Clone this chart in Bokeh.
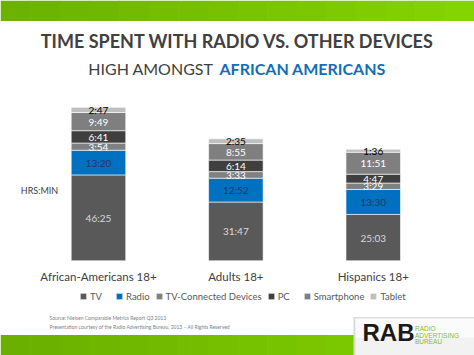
from bokeh.plotting import figure
from bokeh.models import ColumnDataSource, Range1d, Label, BoxAnnotation, Legend, LegendItem
from bokeh.core.properties import value
from bokeh.embed import file_html
from bokeh.resources import INLINE

# ---- data (HRS:MIN per week) ----
categories = ["African-Americans 18+", "Adults 18+", "Hispanics 18+"]
series = ["TV", "Radio", "TV-Connected Devices", "PC", "Smartphone", "Tablet"]
tv = ["46:25", "31:47", "25:03"]
radio = ["13:20", "12:52", "13:30"]
tv_connected = ["3:54", "3:33", "3:29"]
pc = ["6:41", "6:14", "4:47"]
smartphone = ["9:49", "8:55", "11:51"]
tablet = ["2:47", "2:35", "1:36"]

colors = ["#595959", "#0070C0", "#808080", "#3F3F3F", "#7F7F7F", "#BFBFBF"]
label_colors = ["#D9D9D9", "#1F3864", "#FFFFFF", "#FFFFFF", "#FFFFFF", "#000000"]
FONT = "Lato"


def to_hours(s):
    h, m = s.split(":")
    return int(h) + int(m) / 60.0


all_series = [tv, radio, tv_connected, pc, smartphone, tablet]
xs = list(range(len(categories)))
data = {"x": xs}
for name, vals in zip(series, all_series):
    data[name] = [to_hours(v) for v in vals]
source = ColumnDataSource(data)

p = figure(width=474, height=355, x_range=Range1d(-0.713, 2.737), y_range=Range1d(-51.2, 140.7),
           output_backend="svg", toolbar_location=None, min_border=0,
           x_axis_location=None, y_axis_location=None, outline_line_color=None,
           background_fill_color="white", border_fill_color="white")
p.grid.visible = False

# ---- decorative green bands (gradient approximated with strips) ----
def band(bottom, top, left, right, c0, c1, n=16):
    w = (right - left) / n
    for i in range(n):
        t = i / (n - 1)
        r = int(c0[0] + (c1[0] - c0[0]) * t)
        g = int(c0[1] + (c1[1] - c0[1]) * t)
        b = int(c0[2] + (c1[2] - c0[2]) * t)
        p.add_layout(BoxAnnotation(left=left + i * w, right=left + (i + 1) * w + 0.6, bottom=bottom, top=top,
                                   left_units="screen", right_units="screen",
                                   bottom_units="screen", top_units="screen",
                                   fill_color="#%02x%02x%02x" % (r, g, b), fill_alpha=1,
                                   line_color=None, level="underlay"))

band(334.5, 355, 0, 474, (108, 178, 0), (132, 212, 0))
band(0, 20.5, 0, 474, (106, 176, 0), (130, 208, 0))

# logo box
p.add_layout(BoxAnnotation(left=353, right=474, bottom=0, top=38.5, left_units="screen", right_units="screen",
                           bottom_units="screen", top_units="screen", fill_color="#d9d9d9", fill_alpha=1,
                           line_color=None, level="underlay"))
p.add_layout(BoxAnnotation(left=355, right=474, bottom=0, top=37, left_units="screen", right_units="screen",
                           bottom_units="screen", top_units="screen", fill_color="#f2f2f2", fill_alpha=1,
                           line_color=None, level="underlay"))
p.add_layout(BoxAnnotation(left=355, right=474, bottom=18, top=37, left_units="screen", right_units="screen",
                           bottom_units="screen", top_units="screen", fill_color="#fbfbfb", fill_alpha=1,
                           line_color=None, level="underlay"))

# ---- stacked bars ----
renderers = p.vbar_stack(series, x="x", width=0.397, color=colors, source=source,
                         line_color="white", line_width=0.6)

# segment labels
for i, x in enumerate(xs):
    base = 0.0
    for name, vals, lc in zip(series, all_series, label_colors):
        h = to_hours(vals[i])
        p.text(x=[x], y=[base + h / 2], text=[vals[i]], text_align="center", text_baseline="middle",
               text_font=value(FONT), text_font_size="10px", text_color=lc)
        base += h

# category labels
p.text(x=xs, y=[0] * len(xs), text=categories, text_align="center", text_baseline="middle",
       y_offset=16, text_font=value(FONT), text_font_size="11.5px", text_color="#404040")

# ---- legend ----
legend = Legend(items=[LegendItem(label=s, renderers=[r]) for s, r in zip(series, renderers)],
                orientation="horizontal", location=(79, 53), glyph_width=8, glyph_height=8,
                label_text_font=FONT, label_text_font_size="9.5px", label_text_color="#595959",
                label_standoff=3, spacing=5, padding=0, margin=0, border_line_color=None,
                background_fill_alpha=0, label_height=12)
p.add_layout(legend, "center")

# ---- titles and notes ----
p.add_layout(Label(x=237, y=303.5, x_units="screen", y_units="screen",
                   text="TIME SPENT WITH RADIO VS. OTHER DEVICES", text_align="center",
                   text_font=FONT, text_font_style="bold", text_font_size="18px", text_color="#404040"))
p.add_layout(Label(x=213, y=277.5, x_units="screen", y_units="screen",
                   text="HIGH AMONGST", text_align="right",
                   text_font=FONT, text_font_size="16px", text_color="#404040"))
p.add_layout(Label(x=219, y=277.5, x_units="screen", y_units="screen",
                   text="AFRICAN AMERICANS", text_align="left",
                   text_font=FONT, text_font_style="bold", text_font_size="16px", text_color="#0F6FB8"))
p.add_layout(Label(x=39, y=165.5, x_units="screen", y_units="screen", text="HRS:MIN", text_align="center",
                   text_baseline="middle", text_font=FONT, text_font_size="9px", text_color="#404040"))
p.add_layout(Label(x=49, y=37.7, x_units="screen", y_units="screen",
                   text="Source: Nielsen Comparable Metrics Report  Q3 2013",
                   text_baseline="middle", text_font=FONT, text_font_size="5px", text_color="#7F7F7F"))
p.add_layout(Label(x=49, y=28.3, x_units="screen", y_units="screen",
                   text="Presentation courtesy of the Radio Advertising Bureau, 2013 \u2013 All Rights Reserved",
                   text_baseline="middle", text_font=FONT, text_font_size="5px", text_color="#7F7F7F"))

# logo text
p.add_layout(Label(x=362, y=10, x_units="screen", y_units="screen", text="RAB",
                   text_font="Liberation Sans", text_font_style="bold", text_font_size="24px",
                   text_color="#1A1A1A"))
for txt, yy in zip(["RADIO", "ADVERTISING", "BUREAU"], [23.5, 17, 10.5]):
    p.add_layout(Label(x=414.5, y=yy, x_units="screen", y_units="screen", text=txt,
                       text_font="Liberation Sans", text_font_size="6.5px", text_color="#7DBB2E"))

open("out.html", "w").write(file_html(p, INLINE))
